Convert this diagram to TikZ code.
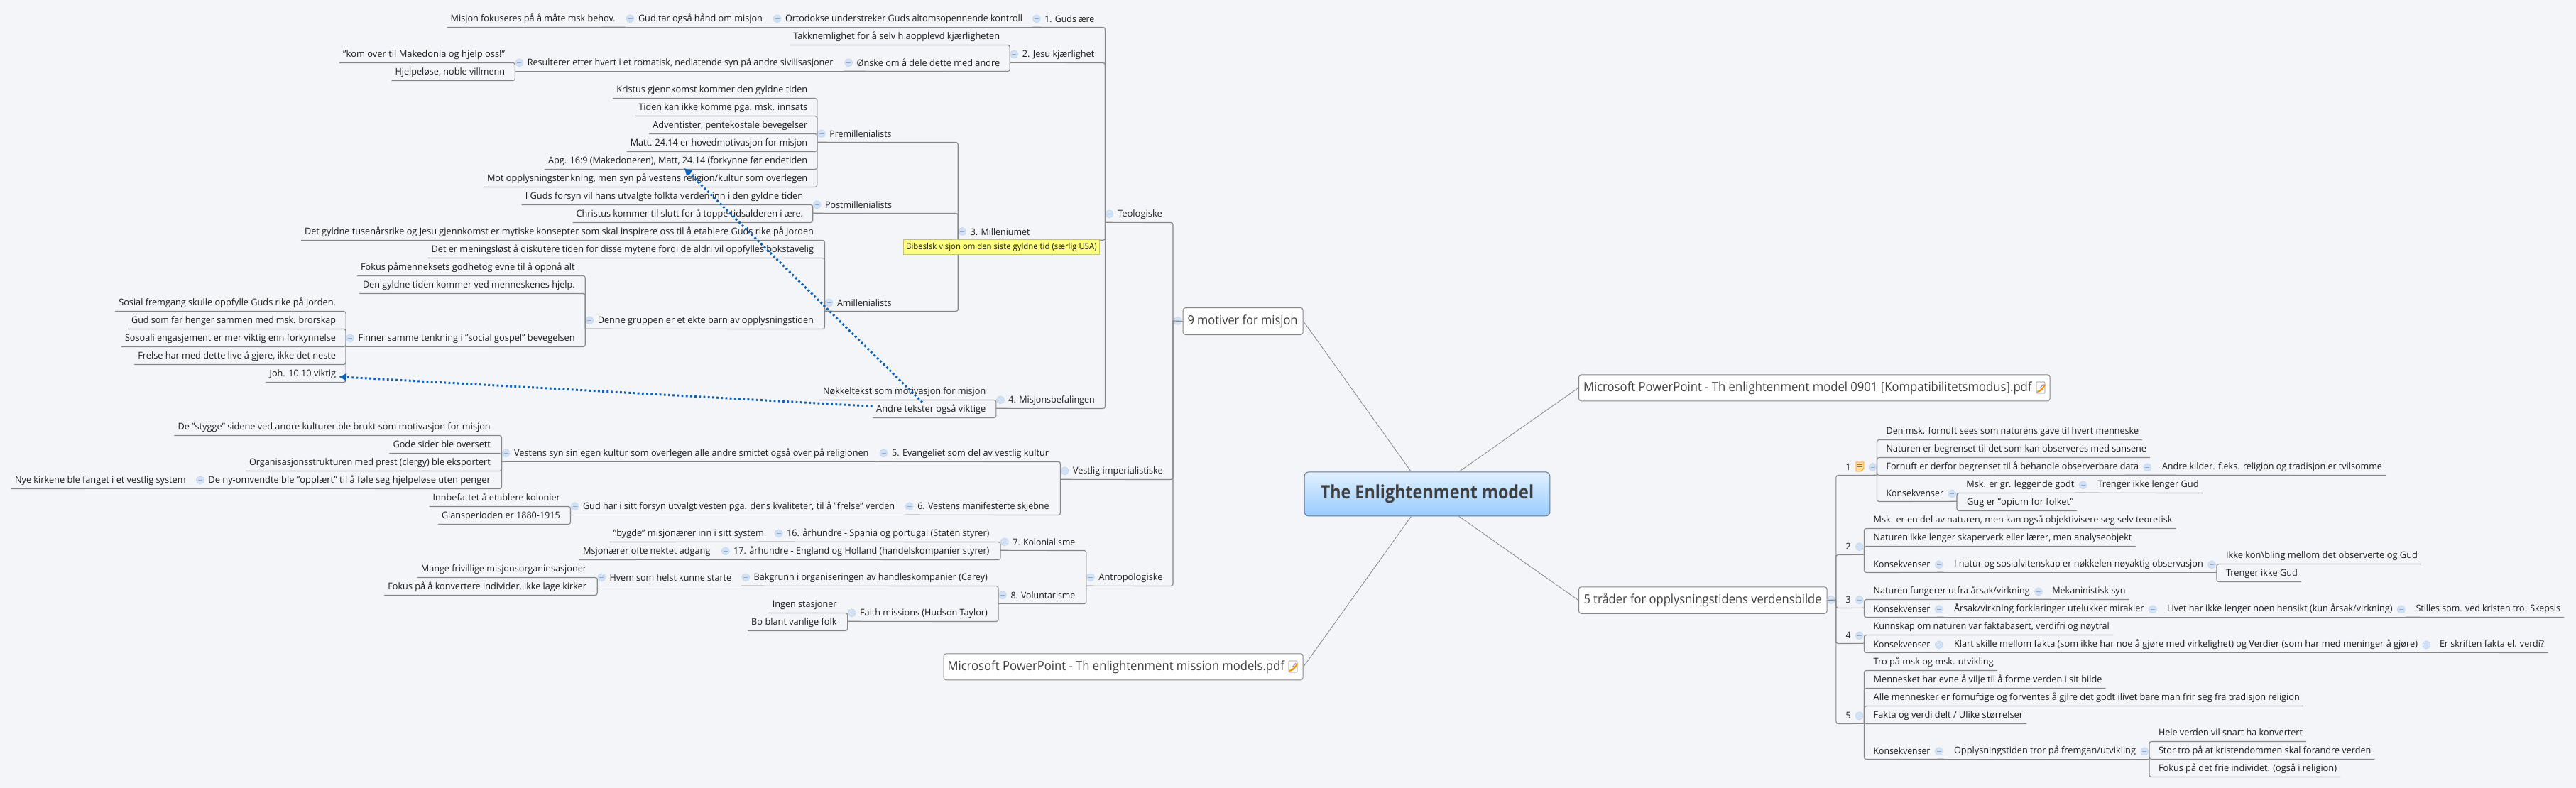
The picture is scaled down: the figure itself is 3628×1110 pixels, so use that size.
\documentclass[tikz,border=0pt]{standalone}
\usepackage{fontspec}
\usepackage{graphicx}
\setmainfont{Open Sans}
\usetikzlibrary{arrows.meta}
\definecolor{bg}{HTML}{F3F5F9}
\definecolor{linec}{HTML}{84868A}
\definecolor{inkc}{HTML}{1C1C1C}
\definecolor{relc}{HTML}{0B63BC}
\definecolor{foldfill}{HTML}{D3E1F4}
\definecolor{folddraw}{HTML}{C2D4EC}
\definecolor{foldbar}{HTML}{86ABDC}
\definecolor{roottop}{HTML}{E0F0FF}
\definecolor{rootbot}{HTML}{98CBFF}
\definecolor{rootedge}{HTML}{66788C}
\definecolor{notefill}{HTML}{FFFF80}
\definecolor{noteedge}{HTML}{C4C470}
\newsavebox\fitbox
\newcommand\fitw[2]{\sbox\fitbox{#2}\pgfmathsetmacro\fitr{(#1)/\wd\fitbox}\scalebox{\fitr}[1]{\usebox\fitbox}}
\newcommand\low[1]{\raisebox{-1.2pt}{#1}}
\tikzset{
  topic/.style={inner xsep=5pt,inner ysep=0pt,minimum height=24pt,text height=11pt,text depth=2.2pt,text=inkc,font=\fontsize{13}{15}\selectfont},
  conn/.style={draw=linec,line width=1.15pt,rounded corners=3pt},
  rootline/.style={draw=linec,line width=0.8pt},
  fold/.style={circle,minimum size=11pt,inner sep=0pt,fill=foldfill,draw=folddraw,line width=0.6pt,
    path picture={\draw[foldbar,line width=1pt] ([xshift=2.5pt]path picture bounding box.west) -- ([xshift=-2.5pt]path picture bounding box.east);}},
  mainbox/.style={draw=linec,fill=white,rounded corners=3.5pt,line width=1pt,inner xsep=0pt,inner ysep=0pt,anchor=north west,text=black!75,font=\fontsize{18}{21}\selectfont,text height=13.5pt,text depth=3.5pt},
  rootbox/.style={draw=rootedge,rounded corners=6pt,line width=1pt,top color=roottop,bottom color=rootbot,inner sep=0pt,anchor=north west,text=black!75,font=\fontsize{26}{30}\bfseries\selectfont},
  notebox/.style={draw=noteedge,fill=notefill,line width=0.8pt,inner sep=0pt,anchor=north west,font=\fontsize{12}{14}\selectfont,text=inkc},
  rel/.style={draw=relc,line width=3pt,dash pattern=on 2.8pt off 3.4pt,-{Latex[length=11pt,width=12pt,fill=relc]}},
}
% left-hand topics: id, text left, text right, underline y, text
\newcommand\LL[5]{\node[topic] (#1) at ({(#2+#3)/2},{#4-12}) {\fitw{#3-#2}{#5}};\coordinate (#1-b) at (#1.south west);}
\newcommand\LP[5]{\LL{#1}{#2}{#3}{#4}{#5}\coordinate (#1-b) at ({#2-17.5},#4);\node[fold] (#1-f) at ({#2-11.5},{#4-12}) {};}
% right-hand topics
\newcommand\RL[5]{\node[topic] (#1) at ({(#2+#3)/2},{#4-12}) {\fitw{#3-#2}{#5}};\coordinate (#1-b) at (#1.south east);}
\newcommand\RP[5]{\RL{#1}{#2}{#3}{#4}{#5}\coordinate (#1-b) at ({#3+19},#4);\node[fold] (#1-f) at ({#3+12.3},{#4-11}) {};}
% connectors
\newcommand\CL[2]{\draw[conn] (#1-b) -- (#1.south east) -| (#2-b);}
\newcommand\CR[2]{\draw[conn] (#1-b) -- (#1.south west) -| (#2-b);}
\newcommand\CS[2]{\draw[conn] (#1-b) -- (#2-b);}
\newcommand\pdficon[2]{%
  \fill[white,draw=black!45,line width=0.7pt,rounded corners=1pt] (#1-6,#2-8) rectangle (#1+6,#2+8);
  \draw[orange!85!yellow,line width=2.2pt] (#1-5,#2+6) .. controls (#1,#2+5) and (#1+3,#2+1) .. (#1+6,#2-4);
  \draw[blue!50,line width=1pt] (#1-1,#2+1) -- (#1+4,#2-5);}
\begin{document}
\begin{tikzpicture}[x=1pt,y=-1pt]
\useasboundingbox (0,0) rectangle (3628,1110);
\fill[bg] (0,0) rectangle (3628,1110);

% ---------- root and main boxes
\node[rootbox,minimum width=345.7pt,minimum height=62pt] (root) at (1836.6,664.4) {\fitw{300.4}{The Enlightenment model}};
\node[mainbox,minimum height=38pt] (motiver) at (1665.7,433) {\hspace*{6.3pt}\fitw{155}{9 motiver for misjon}\hspace*{7.7pt}};
\node[mainbox,minimum height=37pt] (modelpdf) at (2223,527.3) {\hspace*{6.5pt}\fitw{631.5}{Microsoft PowerPoint - Th enlightenment model 0901 [Kompatibilitetsmodus].pdf}\hspace*{25.7pt}};
\node[mainbox,minimum height=37.5pt] (traader) at (2223,826.3) {\hspace*{7pt}\fitw{335}{5 tråder for opplysningstidens verdensbilde}\hspace*{7.6pt}};
\node[mainbox,minimum height=37pt] (misspdf) at (1328.6,920.3) {\hspace*{5.4pt}\fitw{474.5}{Microsoft PowerPoint - Th enlightenment mission models.pdf}\hspace*{26.2pt}};
\draw[rootline] (root) -- (motiver.east);
\draw[rootline] (root) -- (modelpdf.west);
\draw[rootline] (root) -- (traader.west);
\draw[rootline] (root) -- (misspdf.east);
\pdficon{2874}{546}
\pdficon{1821}{939}

\coordinate (top-b) at (1652,452);
\coordinate (trad-b) at (2585.8,845);
\node[fold] (top-f) at (1658.7,452) {};
\node[fold] (trad-f) at (2579,845) {};
\draw[conn] (motiver.west) -- (top-b);
\draw[conn] (traader.east) -- (trad-b);

% ---------- Teologiske
\LP{teo}{1574}{1637}{313.3}{Teologiske}
\LP{guds}{1471.4}{1541.3}{38.3}{\low{1. Guds ære}}
\LP{orto}{1106}{1440}{38.3}{Ortodokse understreker Guds altomsopennende kontroll}
\LP{gudtar}{899}{1074}{38.3}{Gud tar også hånd om misjon}
\LL{misjfok}{634.7}{866.8}{38.3}{Misjon fokuseres på å måte msk behov.}
\LP{jesu}{1439.8}{1541.3}{88.3}{2. Jesu kjærlighet}
\LL{takk}{1117.3}{1408.2}{63.3}{Takknemlighet for å selv h aopplevd kjærligheten}
\LP{onske}{1206.6}{1408.2}{100.3}{\low{Ønske om å dele dette med andre}}
\LP{result}{742.9}{1173.5}{100.3}{Resulterer etter hvert i et romatisk, nedlatende syn på andre sivilisasjoner}
\LL{komover}{483.2}{711.2}{88.3}{"kom over til Makedonia og hjelp oss!"}
\LL{hjelp}{556.6}{711.2}{113.3}{Hjelpeløse, noble villmenn}
\LP{mill}{1366.8}{1450.5}{338}{\low{3. Milleniumet}}
\LP{prem}{1168.4}{1255.6}{200.3}{\low{Premillenialists}}
\LL{pa}{868.4}{1137.2}{138.3}{Kristus gjennkomst kommer den gyldne tiden}
\LL{pb}{899.5}{1137.2}{163.3}{Tiden kan ikke komme pga. msk. innsats}
\LL{pc}{919.4}{1137.2}{188.3}{Adventister, pentekostale bevegelser}
\LL{pd}{887.8}{1137.2}{213.3}{Matt. 24.14 er hovedmotivasjon for misjon}
\LL{pe}{772}{1137.2}{238.3}{Apg. 16:9 (Makedoneren), Matt, 24.14 (forkynne før endetiden}
\LL{pf}{686}{1137.2}{263.3}{Mot opplysningstenkning, men syn på vestens religion/kultur som overlegen}
\LP{post}{1162.2}{1256}{300.3}{\low{Postmillenialists}}
\LL{qa}{739.8}{1131.1}{288.3}{I Guds forsyn vil hans utvalgte folkta verden inn i den gyldne tiden}
\LL{qb}{811.7}{1131.1}{313.3}{Christus kommer til slutt for å toppe tidsalderen i ære.}
\LP{amil}{1179}{1255.6}{438.3}{\low{Amillenialists}}
\LL{aa}{429}{1146}{338.3}{Det gyldne tusenårsrike og Jesu gjennkomst er mytiske konsepter som skal inspirere oss til å etablere Guds rike på Jorden}
\LL{ab}{607.7}{1146}{363.3}{Det er meningsløst å diskutere tiden for disse mytene fordi de aldri vil oppfylles bokstavelig}
\LP{denne}{841.8}{1146}{463.3}{Denne gruppen er et ekte barn av opplysningstiden}
\LL{da}{508}{809.7}{388.3}{Fokus påmenneksets godhetog evne til å oppnå alt}
\LL{db}{511}{809.7}{413.3}{Den gyldne tiden kommer ved menneskenes hjelp.}
\LP{finner}{504.6}{809.7}{488.3}{Finner samme tenkning i "social gospel" bevegelsen}
\LL{fa}{167.3}{473}{438.3}{Sosial fremgang skulle oppfylle Guds rike på jorden.}
\LL{fb}{185.2}{473}{463.3}{Gud som far henger sammen med msk. brorskap}
\LL{fc}{176}{473}{488.3}{Sosoali engasjement er mer viktig enn forkynnelse}
\LL{fd}{194.4}{473}{513.3}{Frelse har med dette live å gjøre, ikke det neste}
\LL{fe}{379.6}{473}{538.3}{Joh. 10.10 viktig}
\LP{misjb}{1420.4}{1541.8}{575.3}{4. Misjonsbefalingen}
\LL{nokkel}{1159.2}{1388.3}{563.3}{Nøkkeltekst som motivasjon for misjon}
\LL{andre}{1234.2}{1388.3}{588.3}{Andre tekster også viktige}

% ---------- Vestlig imperialistiske
\LP{vest}{1511}{1637.6}{675.3}{Vestlig imperialistiske}
\LP{evang}{1256}{1477}{650.3}{5. Evangeliet som del av vestlig kultur}
\LP{vsyn}{724}{1223.5}{650.3}{Vestens syn sin egen kultur som overlegen alle andre smittet også over på religionen}
\LL{va}{250.5}{690.8}{613.3}{De "stygge" sidene ved andre kulturer ble brukt som motivasjon for misjon}
\LL{vb}{553.6}{690.8}{638.3}{Gode sider ble oversett}
\LL{vc}{351}{690.8}{663.3}{Organisasjonsstrukturen med prest (clergy) ble eksportert}
\LP{vd}{293.4}{690.8}{688.3}{De ny-omvendte ble "opplært" til å føle seg hjelpeløse uten penger}
\LL{ve}{21}{261.7}{688.3}{Nye kirkene ble fanget i et vestlig system}
\LP{manif}{1292.3}{1477.6}{725.3}{6. Vestens manifesterte skjebne}
\LP{gudhar}{821}{1260.2}{725.3}{Gud har i sitt forsyn utvalgt vesten pga. dens kvaliteter, til å "frelse" verden}
\LL{ga}{609.7}{788.8}{713.3}{Innbefattet å etablere kolonier}
\LL{gb}{622}{788.8}{738.3}{Glansperioden er 1880-1915}

% ---------- Antropologiske
\LP{antr}{1547.4}{1637.6}{825.3}{Antropologiske}
\LP{kolon}{1426.5}{1514.3}{775.3}{\low{7. Kolonialisme}}
\LP{aarh}{1108.2}{1393.4}{763.3}{16. århundre - Spania og portugal (Staten styrer)}
\LL{bygde}{863.8}{1076}{763.3}{"bygde" misjonærer inn i sitt system}
\LP{aarhb}{1033.2}{1393.4}{788.3}{17. århundre - England og Holland (handelskompanier styrer)}
\LL{msjon}{821}{1000.5}{788.3}{Msjonærer ofte nektet adgang}
\LP{volun}{1423.5}{1514.3}{850.3}{\low{8. Voluntarisme}}
\LP{bakgr}{1061.7}{1390.8}{825.3}{Bakgrunn i organiseringen av handleskompanier (Carey)}
\LP{hvem}{858.7}{1030.1}{825.3}{\low{Hvem som helst kunne starte}}
\LL{mange}{592.9}{826}{813.3}{Mange frivillige misjonsorganinsasjoner}
\LL{fokusk}{546.4}{826}{838.3}{Fokus på å konvertere individer, ikke lage kirker}
\LP{faith}{1211.2}{1390.8}{875.3}{Faith missions (Hudson Taylor)}
\LL{ingen}{1087.8}{1178.6}{863.3}{Ingen stasjoner}
\LL{boblant}{1058.2}{1178.6}{888.3}{Bo blant vanlige folk}

% ---------- right side
\RL{one}{2599.5}{2606.4}{669.3}{\low{1}}
\coordinate (one-b) at (2643.5,669.3);
\node[fold] (one-f) at (2637.5,658) {};
\fill[yellow!35!orange!30,draw=orange!80!yellow,line width=0.9pt] (2614,651) -- (2625,651) -- (2625,660) -- (2621,664) -- (2614,664) -- cycle;
\draw[orange!80!black,line width=0.7pt] (2616,654) -- (2623,654) (2616,657) -- (2623,657) (2616,660) -- (2621,660);
\RL{oa}{2656.6}{3012}{619.3}{Den msk. fornuft sees som naturens gave til hvert menneske}
\RL{ob}{2656.6}{3023}{644.3}{Naturen er begrenset til det som kan observeres med sansene}
\RP{oc}{2656.6}{3012}{669.3}{Fornuft er derfor begrenset til å behandle observerbare data}
\RL{oc1}{3045}{3355}{669.3}{Andre kilder. f.eks. religion og tradisjon er tvilsomme}
\RP{od}{2656.6}{2737}{706.3}{\low{Konsekvenser}}
\RP{od1}{2769.3}{2921.3}{694.3}{Msk. er gr. leggende godt}
\RL{od2}{2954.3}{3096.6}{694.3}{Trenger ikke lenger Gud}
\RL{od3}{2770}{2920}{719.3}{Gug er "opium for folket"}

\RP{two}{2599.5}{2606.4}{781.3}{\low{2}}
\RL{ta}{2638.7}{3059.5}{744.3}{Msk. er en del av naturen, men kan også objektivisere seg selv teoretisk}
\RL{tb}{2638.7}{3002.4}{769.3}{Naturen ikke lenger skaperverk eller lærer, men analyseobjekt}
\RP{tc}{2638.7}{2718.4}{806.3}{\low{Konsekvenser}}
\RP{tc1}{2752}{3102.8}{806.3}{I natur og sosialvitenskap er nøkkelen nøyaktig observasjon}
\RL{tc2}{3135}{3405}{794.3}{Ikke kon\textbackslash bling mellom det observerte og Gud}
\RL{tc3}{3135}{3236}{819.3}{Trenger ikke Gud}

\RP{three}{2599.5}{2606.4}{856.3}{\low{3}}
\RP{ua}{2638.7}{2858.7}{844.3}{Naturen fungerer utfra årsak/virkning}
\RL{ua1}{2890.3}{2993.5}{844.3}{Mekaninistisk syn}
\RP{ub}{2638.7}{2718.4}{869.3}{\low{Konsekvenser}}
\RP{ub1}{2752}{3019.6}{869.3}{Årsak/virkning forklaringer utelukker mirakler}
\RP{ub2}{3052}{3369.5}{869.3}{Livet har ikke lenger noen hensikt (kun årsak/virkning)}
\RL{ub3}{3402.5}{3606}{869.3}{Stilles spm. ved kristen tro. Skepsis}

\RP{four}{2599.5}{2606.4}{906.3}{\low{4}}
\RL{wa}{2638.7}{2970.8}{894.3}{Kunnskap om naturen var faktabasert, verdifri og nøytral}
\RP{wb}{2638.7}{2718.4}{919.3}{\low{Konsekvenser}}
\RP{wb1}{2752}{3405}{919.3}{Klart skille mellom fakta (som ikke har noe å gjøre med virkelighet) og Verdier (som har med meninger å gjøre)}
\RL{wb2}{3436}{3583.3}{919.3}{Er skriften fakta el. verdi?}

\RP{five}{2599.5}{2606.4}{1019.3}{\low{5}}
\RL{xa}{2638.7}{2807.8}{944.3}{Tro på msk og msk. utvikling}
\RL{xb}{2638.7}{2960.4}{969.3}{Mennesket har evne å vilje til å forme verden i sit bilde}
\RL{xc}{2638.7}{3239}{994.3}{Alle mennesker er fornuftige og forventes å gjlre det godt ilivet bare man frir seg fra tradisjon religion}
\RL{xd}{2638.7}{2849}{1019.3}{Fakta og verdi delt / Ulike størrelser}
\RP{xe}{2638.7}{2718.4}{1069.3}{\low{Konsekvenser}}
\RP{xe1}{2752}{3008}{1069.3}{Opplysningstiden tror på fremgan/utvikling}
\RL{xf}{3040}{3243}{1044.3}{Hele verden vil snart ha konvertert}
\RL{xg}{3040}{3339.3}{1069.3}{Stor tro på at kristendommen skal forandre verden}
\RL{xh}{3040}{3291}{1094.3}{Fokus på det frie individet. (også i religion)}

% ---------- connectors, left side
\CL{teo}{top}\CL{vest}{top}\CL{antr}{top}
\CL{guds}{teo}\CL{jesu}{teo}\CL{mill}{teo}\CL{misjb}{teo}
\CS{orto}{guds}\CS{gudtar}{orto}\CS{misjfok}{gudtar}
\CL{takk}{jesu}\CL{onske}{jesu}
\CS{result}{onske}\CL{komover}{result}\CL{hjelp}{result}
\CL{prem}{mill}\CL{post}{mill}\CL{amil}{mill}
\CL{pa}{prem}\CL{pb}{prem}\CL{pc}{prem}\CL{pd}{prem}\CL{pe}{prem}\CL{pf}{prem}
\CL{qa}{post}\CL{qb}{post}
\CL{aa}{amil}\CL{ab}{amil}\CL{denne}{amil}
\CL{da}{denne}\CL{db}{denne}\CL{finner}{denne}
\CL{fa}{finner}\CL{fb}{finner}\CL{fc}{finner}\CL{fd}{finner}\CL{fe}{finner}
\CL{nokkel}{misjb}\CL{andre}{misjb}
\CL{evang}{vest}\CL{manif}{vest}
\CS{vsyn}{evang}\CL{va}{vsyn}\CL{vb}{vsyn}\CL{vc}{vsyn}\CL{vd}{vsyn}\CS{ve}{vd}
\CS{gudhar}{manif}\CL{ga}{gudhar}\CL{gb}{gudhar}
\CL{kolon}{antr}\CL{volun}{antr}
\CL{aarh}{kolon}\CL{aarhb}{kolon}\CS{bygde}{aarh}\CS{msjon}{aarhb}
\CL{bakgr}{volun}\CL{faith}{volun}\CS{hvem}{bakgr}\CL{mange}{hvem}\CL{fokusk}{hvem}
\CL{ingen}{faith}\CL{boblant}{faith}

% ---------- connectors, right side
\CR{one}{trad}\CR{two}{trad}\CR{three}{trad}\CR{four}{trad}\CR{five}{trad}
\CR{oa}{one}\CR{ob}{one}\CR{oc}{one}\CR{od}{one}\CS{oc1}{oc}
\CR{od1}{od}\CR{od3}{od}\CS{od2}{od1}
\CR{ta}{two}\CR{tb}{two}\CR{tc}{two}\CS{tc1}{tc}\CR{tc2}{tc1}\CR{tc3}{tc1}
\CR{ua}{three}\CR{ub}{three}\CS{ua1}{ua}\CS{ub1}{ub}\CS{ub2}{ub1}\CS{ub3}{ub2}
\CR{wa}{four}\CR{wb}{four}\CS{wb1}{wb}\CS{wb2}{wb1}
\CR{xa}{five}\CR{xb}{five}\CR{xc}{five}\CR{xd}{five}\CR{xe}{five}
\CS{xe1}{xe}\CR{xf}{xe1}\CR{xg}{xe1}\CR{xh}{xe1}

% ---------- note
\node[notebox,minimum width=276.6pt,minimum height=20.4pt] (note) at (1271.7,337.3) {\fitw{268.4}{Bibeslsk visjon om den siste gyldne tid (særlig USA)}};

% ---------- relationships
\coordinate (relA1) at (1299,566.7);
\coordinate (relA2) at (963.3,236.7);
\coordinate (relB1) at (1228.6,572.3);
\coordinate (relB2) at (477,530.7);
\draw[rel] (relA1) -- (relA2);
\draw[rel] (relB1) -- (relB2);
\end{tikzpicture}
\end{document}
